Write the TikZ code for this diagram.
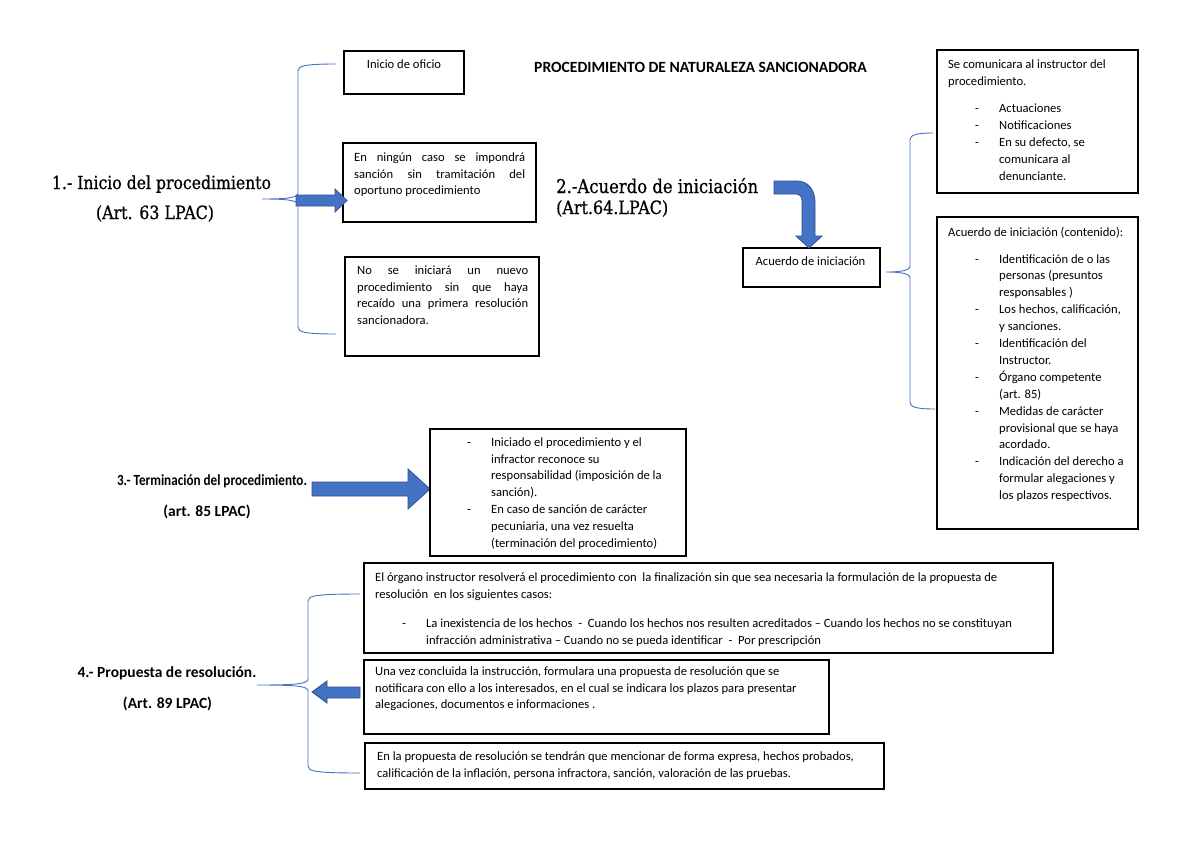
\documentclass[tikz,border=0pt]{standalone}
\usepackage{fontspec}
\setmainfont{Carlito}
\newfontfamily\serifh[FakeBold=0.8]{DejaVu Serif}
\usepackage{graphicx}
\definecolor{bblue}{RGB}{68,114,196}
\definecolor{bdark}{RGB}{47,82,143}
\definecolor{bracecol}{RGB}{68,114,196}
\newcommand\di[1]{\makebox[51pt][l]{\hspace{27pt}-}#1}
\newcommand\dc[1]{\makebox[51pt][l]{}#1}
\newcommand\fr{\rule{0pt}{12.6pt}}
\newcommand\serifbox[2]{\scalebox{1}[1.15]{\resizebox{#1}{!}{\serifh #2}}}
\newcommand\mybrace[7]{\draw[bracest] (#1,#2) .. controls ({#5+6},{#2}) and (#5,{#2+2}) .. (#5,{#2+7}) -- (#5,{#7-6}) .. controls (#5,{#7-1}) and ({#5-12},#7) .. (#6,#7) .. controls ({#5-12},#7) and (#5,{#7+1}) .. (#5,{#7+6}) -- (#5,{#4-7}) .. controls (#5,{#4-2}) and ({#5+6},#4) .. (#3,#4);}
\begin{document}
\begin{tikzpicture}[x=1pt,y=-1pt,
  boxst/.style n args={2}{draw=black,line width=1.3pt,anchor=north west,inner sep=0pt,outer sep=0pt,minimum width=#1,minimum height=#2},
  txt/.style={anchor=north west,inner sep=0pt,align=left,font=\fontsize{12.6}{16.9}\selectfont},
  jtxt/.style={anchor=north west,inner sep=0pt,text width=#1,align=justify,font=\fontsize{12.6}{16.9}\selectfont},
  bracest/.style={draw=bracecol,line width=0.9pt},
  blockarrow/.style={fill=bblue,draw=bdark,line width=0.8pt,line join=miter},
  head/.style={anchor=base,inner sep=0pt},
  headb/.style={anchor=base,inner sep=0pt,font=\bfseries\fontsize{15.5}{18}\selectfont}]
\fill[white] (0,0) rectangle (1200,849);
\useasboundingbox (0,0) rectangle (1200,849);

% title
\node[anchor=base west,inner sep=0pt,font=\bfseries\fontsize{15.6}{18}\selectfont] (title) at (534,72) {PROCEDIMIENTO DE NATURALEZA SANCIONADORA};

% ---------- section 1
\node[head] (h1a) at (161.5,189) {\serifbox{219pt}{1.- Inicio del procedimiento}};
\node[head] (h1b) at (155,219) {\serifbox{118pt}{(Art. 63 LPAC)}};
\node[boxst={120pt}{43pt}] (boxA) at (344,51) {};
\node[anchor=base,inner sep=0pt,font=\fontsize{12.6}{16.9}\selectfont] (tA) at (404,68) {Inicio de oficio};
\node[boxst={193pt}{79pt}] (boxB) at (343,143) {};
\node[jtxt=171pt] (tB) at (354,148.3) {\fr En ningún caso se impondrá\linebreak sanción sin tramitación del\linebreak oportuno procedimiento};
\node[boxst={194pt}{99pt}] (boxC) at (345,257) {};
\node[jtxt=171pt] (tC) at (357,261.3) {\fr No se iniciará un nuevo\linebreak procedimiento sin que haya\linebreak recaído una primera resolución\linebreak sancionadora.};
\mybrace{336}{64}{336}{334}{298}{262}{199}
\draw[blockarrow] (296,195) -- (335,195) -- (335,189) -- (347,200.5) -- (335,212) -- (335,206) -- (296,206) -- cycle;

% ---------- section 2
\node[head,anchor=base west] (h2a) at (556,193) {\serifbox{202pt}{2.-Acuerdo de iniciación}};
\node[head,anchor=base west] (h2b) at (556,214) {\serifbox{112pt}{(Art.64.LPAC)}};
\node[boxst={137pt}{39pt}] (boxD) at (743,248) {};
\node[anchor=base,inner sep=0pt,font=\fontsize{12.6}{16.9}\selectfont] (tD) at (810.5,265) {Acuerdo de iniciación};
\draw[blockarrow] (774,181) -- (797,181) .. controls (808,181) and (815,190) .. (815,202) -- (815,236) -- (822,236) -- (809,248) -- (796,236) -- (802,236) -- (802,201) .. controls (802,197) and (800,194) .. (796,194) -- (774,194) -- cycle;
\node[boxst={201pt}{143pt}] (boxTR) at (937,50) {};
\node[txt] (tTR) at (948,55.3) {\fr Se comunicara al instructor del\\procedimiento.\\[11pt]\di{Actuaciones}\\\di{Notificaciones}\\\di{En su defecto, se}\\\dc{comunicara al}\\\dc{denunciante.}};
\node[boxst={201pt}{312pt}] (boxBR) at (937,217) {};
\node[txt] (tBR) at (948,223.3) {\fr Acuerdo de iniciación (contenido):\\[10pt]\di{Identificación de o las}\\\dc{personas (presuntos}\\\dc{responsables )}\\\di{Los hechos, calificación,}\\\dc{y sanciones.}\\\di{Identificación del}\\\dc{Instructor.}\\\di{Órgano competente}\\\dc{(art. 85)}\\\di{Medidas de carácter}\\\dc{provisional que se haya}\\\dc{acordado.}\\\di{Indicación del derecho a}\\\dc{formular alegaciones y}\\\dc{los plazos respectivos.}};
\mybrace{933}{133}{935}{409}{910}{886}{272}

% ---------- section 3
\node[head] (h3a) at (212,485) {\resizebox{190pt}{\height}{\bfseries\fontsize{15.5}{18}\selectfont 3.- Terminación del procedimiento.}};
\node[headb] (h3b) at (207,516) {(art. 85 LPAC)};
\draw[blockarrow] (312,482) -- (408,482) -- (408,469) -- (430,489) -- (408,509) -- (408,496) -- (312,496) -- cycle;
\node[boxst={256pt}{127pt}] (box3) at (430,429) {};
\node[txt] (t3) at (440,433.3) {\fr\di{Iniciado el procedimiento y el}\\\dc{infractor reconoce su}\\\dc{responsabilidad (imposición de la}\\\dc{sanción).}\\\di{En caso de sanción de carácter}\\\dc{pecuniaria, una vez resuelta}\\\dc{(terminación del procedimiento)}};

% ---------- section 4
\node[headb] (h4a) at (167,677) {4.- Propuesta de resolución.};
\node[headb] (h4b) at (167.5,708) {(Art. 89 LPAC)};
\node[boxst={689pt}{90pt}] (box4a) at (364,563) {};
\node[txt] (t4a) at (375,568.3) {\fr El órgano instructor resolverá el procedimiento con\ \ la finalización sin que sea necesaria la formulación de la propuesta de\\resolución\ \ en los siguientes casos:\\[13pt]\di{La inexistencia de los hechos\ \ -\ \ Cuando los hechos nos resulten acreditados – Cuando los hechos no se constituyan}\\\dc{infracción administrativa – Cuando no se pueda identificar\ \ -\ \ Por prescripción}};
\node[boxst={465pt}{74pt}] (box4b) at (364,660) {};
\node[txt] (t4b) at (375,662.3) {\fr Una vez concluida la instrucción, formulara una propuesta de resolución que se\\notificara con ello a los interesados, en el cual se indicara los plazos para presentar\\alegaciones, documentos e informaciones .};
\node[boxst={519pt}{46pt}] (box4c) at (365,743) {};
\node[txt] (t4c) at (377,747.3) {\fr En la propuesta de resolución se tendrán que mencionar de forma expresa, hechos probados,\\calificación de la inflación, persona infractora, sanción, valoración de las pruebas.};
\mybrace{360}{594}{360}{773}{308}{257}{685}
\draw[blockarrow] (360,687) -- (327,687) -- (327,681) -- (312,692) -- (327,703) -- (327,698) -- (360,698) -- cycle;
\end{tikzpicture}
\end{document}
